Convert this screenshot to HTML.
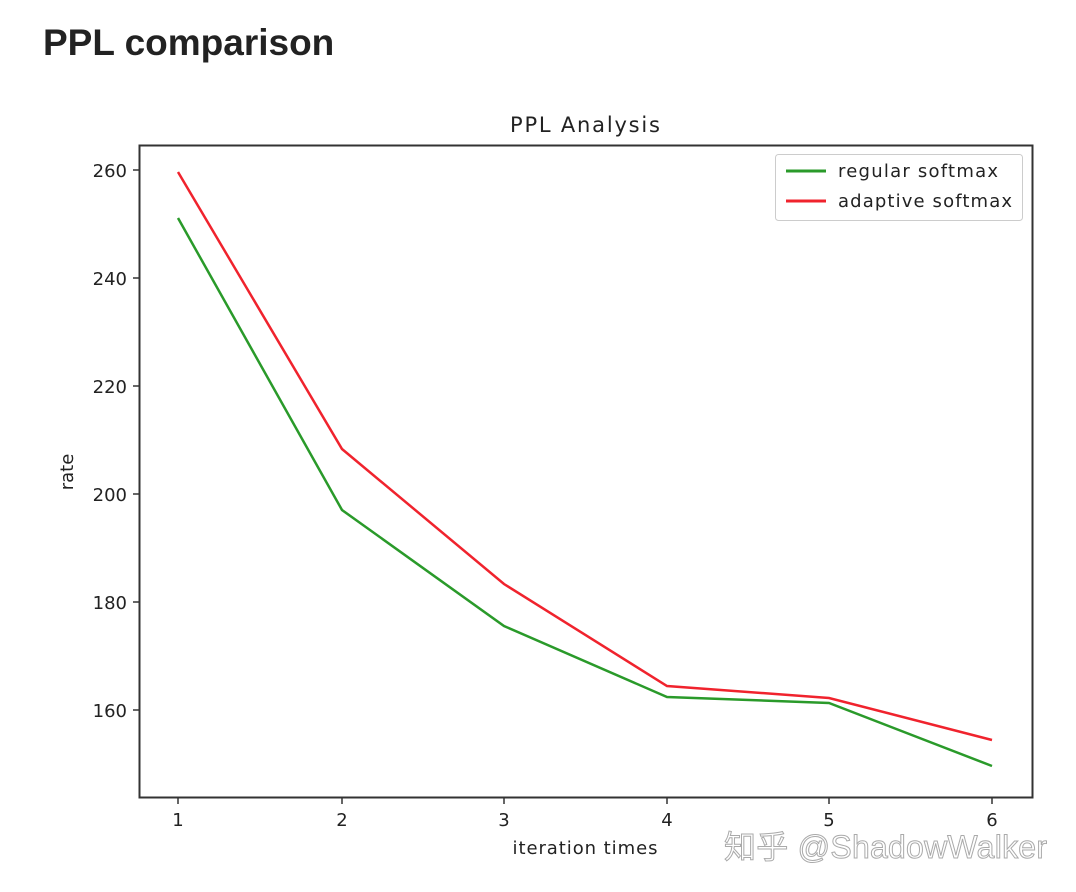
<!DOCTYPE html>
<html><head><meta charset="utf-8"><style>
html,body{margin:0;padding:0;background:#fff;width:1076px;height:892px;overflow:hidden}
</style></head><body>
<svg width="1076" height="892" xmlns="http://www.w3.org/2000/svg" font-family="'DejaVu Sans','Liberation Sans',sans-serif">
<text x="43" y="55" font-family="'Liberation Sans',sans-serif" font-weight="bold" font-size="37" fill="#222">PPL comparison</text>
<text x="585" y="132" text-anchor="middle" font-size="21" fill="#222" textLength="150">PPL Analysis</text>
<rect x="139.5" y="145.5" width="893" height="652" fill="none" stroke="#333" stroke-width="2"/>
<g stroke="#333" stroke-width="1.5">
<line x1="133" y1="170" x2="139" y2="170"/><line x1="133" y1="278" x2="139" y2="278"/><line x1="133" y1="386" x2="139" y2="386"/><line x1="133" y1="494" x2="139" y2="494"/><line x1="133" y1="602" x2="139" y2="602"/><line x1="133" y1="710" x2="139" y2="710"/>
<line x1="178" y1="798" x2="178" y2="804"/><line x1="342" y1="798" x2="342" y2="804"/><line x1="504" y1="798" x2="504" y2="804"/><line x1="667" y1="798" x2="667" y2="804"/><line x1="829" y1="798" x2="829" y2="804"/><line x1="992" y1="798" x2="992" y2="804"/>
</g>
<g font-size="18" fill="#222" text-anchor="end">
<text x="127" y="177">260</text><text x="127" y="285">240</text><text x="127" y="393">220</text><text x="127" y="501">200</text><text x="127" y="609">180</text><text x="127" y="717">160</text>
</g>
<g font-size="18" fill="#222" text-anchor="middle">
<text x="178" y="826">1</text><text x="342" y="826">2</text><text x="504" y="826">3</text><text x="667" y="826">4</text><text x="829" y="826">5</text><text x="992" y="826">6</text>
<text x="585" y="854" textLength="145">iteration times</text>
</g>
<text transform="translate(73,472) rotate(-90)" text-anchor="middle" font-size="18" fill="#222">rate</text>
<polyline fill="none" stroke="#2a9a2a" stroke-width="2.5" points="178,218 342,510 504,626 667,697 829,703 992,766"/>
<polyline fill="none" stroke="#f0232d" stroke-width="2.5" points="178,172 342,449 504,584 667,686 829,698 992,740"/>
<rect x="775.5" y="154.5" width="247" height="66" rx="3" fill="#fff" stroke="#ccc"/>
<line x1="786" y1="171" x2="826" y2="171" stroke="#2a9a2a" stroke-width="3"/>
<line x1="786" y1="201" x2="826" y2="201" stroke="#f0232d" stroke-width="3"/>
<text x="838" y="177" font-size="18" fill="#222" textLength="160">regular softmax</text>
<text x="838" y="207" font-size="18" fill="#222" textLength="174">adaptive softmax</text>
<text x="724" y="858" font-family="'Liberation Sans','Noto Sans CJK SC',sans-serif" font-size="32" fill="#fff" stroke="#aaa" stroke-width="1" textLength="323">知乎 @ShadowWalker</text>
</svg>
</body></html>
